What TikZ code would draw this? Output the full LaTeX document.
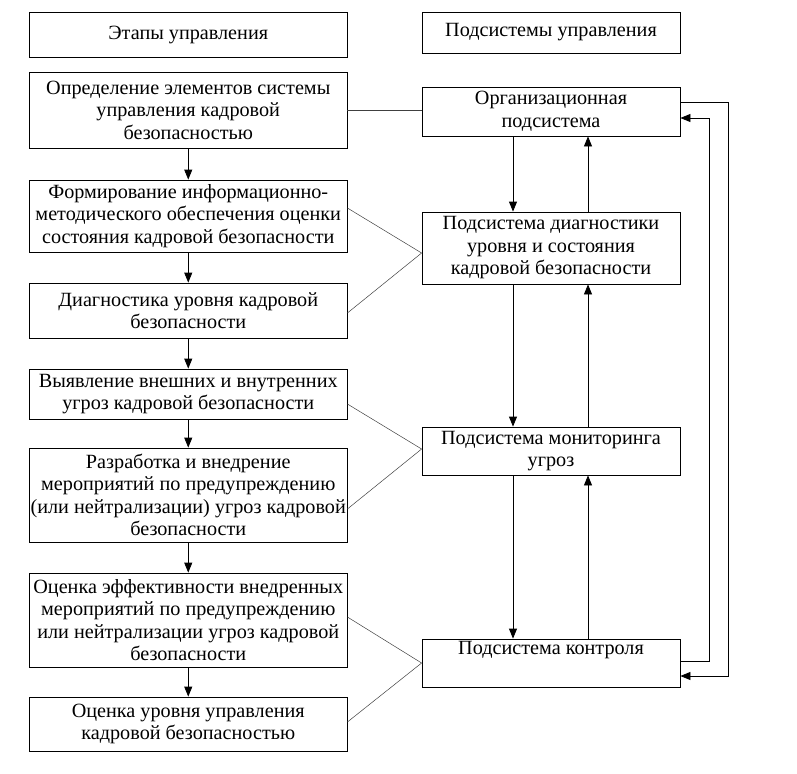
\documentclass[tikz,border=0pt]{standalone}
\usepackage{fontspec}
\setmainfont{Liberation Serif}
\usetikzlibrary{arrows.meta}
\begin{document}
\begin{tikzpicture}[x=1pt,y=-1pt,
	box/.style={draw, line width=0.8pt, align=center, inner sep=0pt, font=\fontsize{20.2}{22.5}\selectfont},
	stage/.style={box, minimum width=317.5pt},
	subsys/.style={box, minimum width=258pt},
	arr/.style={-{Triangle[length=10pt,width=8pt]}, line width=0.8pt},
	link/.style={line width=0.5pt, black!75}]
		\useasboundingbox (0,0) rectangle (797,773);
		% left column
		\node[stage, minimum height=44.5pt] (hL) at (188.25,35) {Этапы управления};
		\node[stage, minimum height=75.5pt] (L1) at (188.25,110.25) {Определение элементов системы\\управления кадровой\\безопасностью};
		\node[stage, minimum height=72pt] (L2) at (188.25,216) {Формирование информационно-\\методического обеспечения оценки\\состояния кадровой безопасности};
		\node[stage, minimum height=55pt] (L3) at (188.25,310.5) {Диагностика уровня кадровой\\безопасности};
		\node[stage, minimum height=50pt] (L4) at (188.25,394) {Выявление внешних и внутренних\\угроз кадровой безопасности};
		\node[stage, minimum height=94pt] (L5) at (188.25,495) {Разработка и внедрение\\мероприятий по предупреждению\\(или нейтрализации) угроз кадровой\\безопасности};
		\node[stage, minimum height=94pt] (L6) at (188.25,620) {Оценка эффективности внедренных\\мероприятий по предупреждению\\или нейтрализации угроз кадровой\\безопасности};
		\node[stage, minimum height=54pt] (L7) at (188.25,724) {Оценка уровня управления\\кадровой безопасностью};
		% right column
		\node[subsys, minimum height=41pt] (hR) at (551,32.5) {Подсистемы управления};
		\node[subsys, minimum height=49pt] (R1) at (551,111.5) {Организационная\\подсистема};
		\node[subsys, minimum height=72pt] (R2) at (551,248) {Подсистема диагностики\\уровня и состояния\\кадровой безопасности};
		\node[subsys, minimum height=48pt] (R3) at (551,451) {Подсистема мониторинга\\угроз};
		\node[subsys, minimum height=48pt] (R4) at (551,663) {Подсистема контроля\\\strut};
		% arrows between stages
		\foreach \a/\b in {L1/L2, L2/L3, L3/L4, L4/L5, L5/L6, L6/L7}
			\draw[arr] (\a.south) -- (\b.north);
		% arrows between subsystems
		\coordinate (dn) at (513,0);
		\coordinate (up) at (588,0);
		\foreach \a/\b in {R1/R2, R2/R3, R3/R4}{
			\draw[arr] (\a.south -| dn) -- (\b.north -| dn);
			\draw[arr] (\b.north -| up) -- (\a.south -| up);
		}
		% feedback loops
		\coordinate (oR) at (728,676);
		\coordinate (iR) at (709,661);
		\draw[arr] ([yshift=9.5pt]R1.east) -| (oR) -- ([yshift=-13pt]R4.east);
		\draw[arr] ([yshift=2pt]R4.east) -- (iR) |- ([yshift=-6.5pt]R1.east);
		% links stages - subsystems
		\draw[link] (L1.east) -- (L1.east -| R1.west);
		\coordinate (m2) at ([yshift=-5pt]R2.west);
		\draw[link] ([yshift=8pt]L2.east) -- (m2) -- ([yshift=-2.5pt]L3.east);
		\coordinate (m3) at ([yshift=2pt]R3.west);
		\draw[link] ([yshift=-10pt]L4.east) -- (m3) -- ([yshift=-14pt]L5.east);
		\coordinate (m4) at (R4.west);
		\draw[link] ([yshift=3pt]L6.east) -- (m4) -- ([yshift=2pt]L7.east);
\end{tikzpicture}
\end{document}
